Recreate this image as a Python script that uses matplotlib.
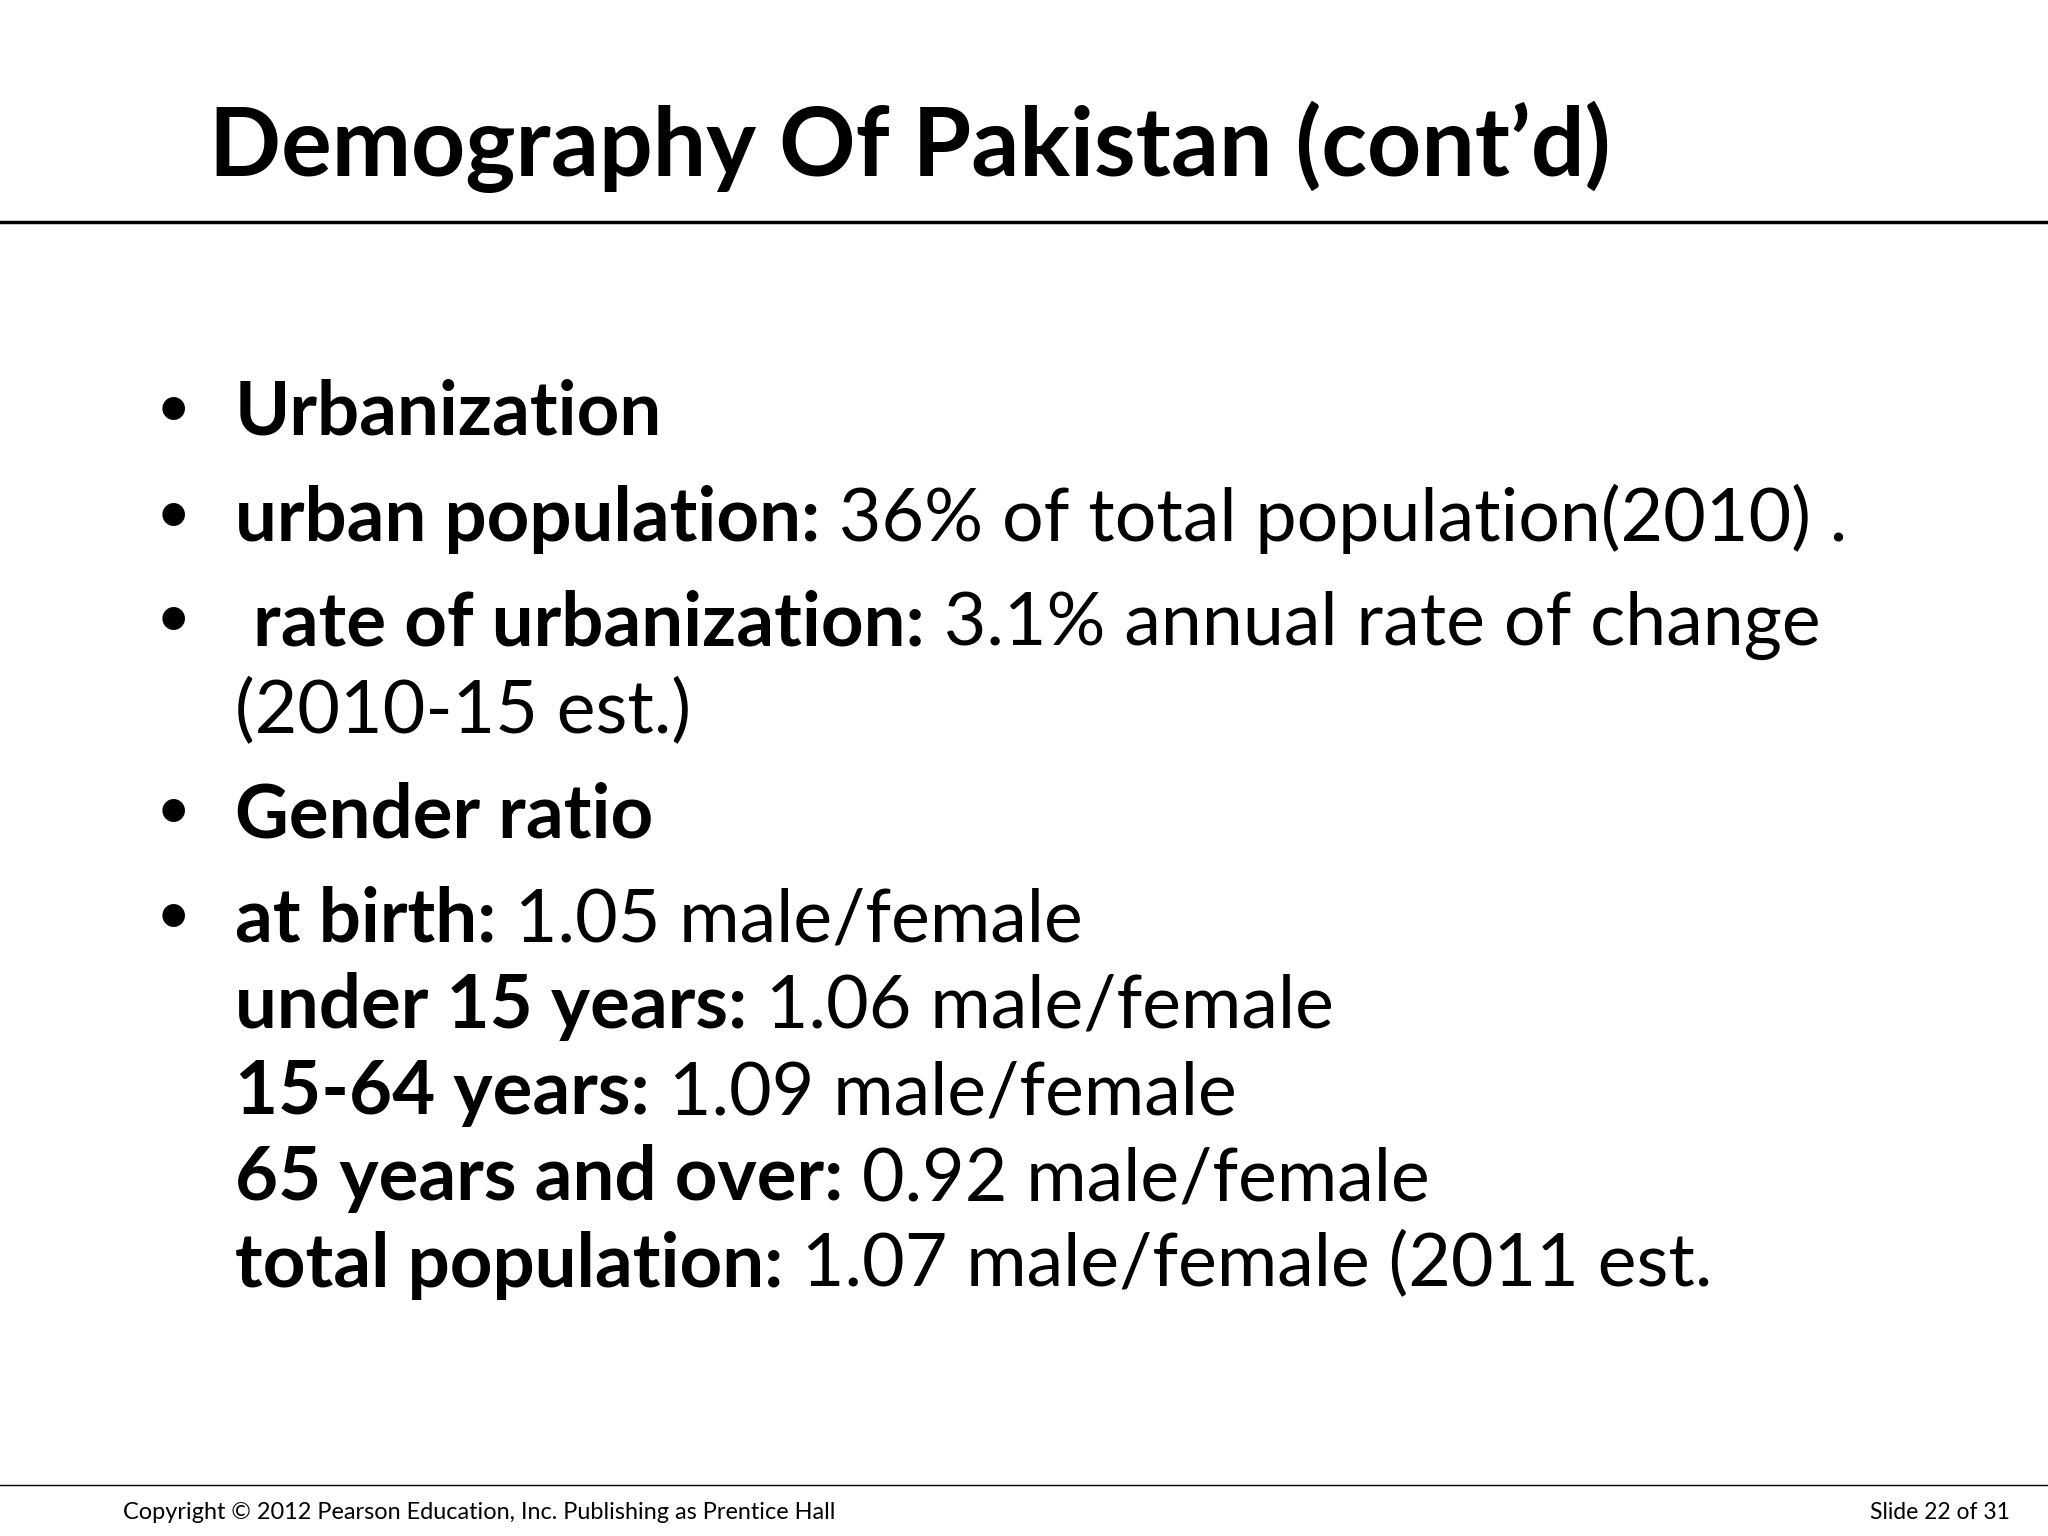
import matplotlib.pyplot as plt

plt.rcParams['font.family'] = ['Lato', 'DejaVu Sans']

title = 'Demography Of Pakistan (cont\u2019d)'
footer_left = 'Copyright \u00a9 2012 Pearson Education, Inc. Publishing as Prentice Hall'
footer_right = 'Slide 22 of 31'

# (bold part, regular part, baseline y in px of a 1568x1176 view)
lines = [
    ('Urbanization', '', 333),
    ('urban population:', ' 36% of total population(2010) .', 414),
    (' rate of urbanization:', ' 3.1% annual rate of change', 494),
    ('', '(2010-15 est.)', 561),
    ('Gender ratio', '', 641),
    ('at birth:', ' 1.05 male/female', 721),
    ('under 15 years:', ' 1.06 male/female', 787),
    ('15-64 years:', ' 1.09 male/female', 853),
    ('65 years and over:', ' 0.92 male/female', 919),
    ('total population:', ' 1.07 male/female (2011 est.', 985),
]
bullets_y = [327, 408, 488, 635, 715]

W, H = 1568, 1176
fig = plt.figure(figsize=(20.48, 15.36), dpi=100)
ax = fig.add_axes([0, 0, 1, 1])
ax.set_xlim(0, W)
ax.set_ylim(H, 0)
ax.axis('off')

ax.text(160, 135, title, fontsize=68.2, fontweight='bold', color='black', va='baseline')
ax.plot([0, W], [170, 170], color='black', lw=2.5)

fig.canvas.draw()
rend = fig.canvas.get_renderer()

for y in bullets_y:
    ax.text(119, y, '\u2022', fontsize=44, color='black', va='baseline')

for bold, reg, y in lines:
    x = 180
    if bold:
        t = ax.text(x, y, bold.replace(' ', '\u00a0', 1) if bold[0] == ' ' else bold,
                    fontsize=53.6, fontweight='bold', color='black', va='baseline')
        x = ax.transData.inverted().transform((t.get_window_extent(rend).x1, 0))[0]
    if reg:
        ax.text(x, y, reg.replace(' ', '\u00a0', 1) if reg[0] == ' ' else reg,
                fontsize=52.9, color='black', va='baseline')

ax.plot([0, W], [1137, 1137], color='black', lw=1)
ax.text(94, 1163, footer_left, fontsize=16.9, color='black', va='baseline')
ax.text(1539, 1163, footer_right, fontsize=16.5, color='black', va='baseline', ha='right')

fig.savefig('out.png', dpi=100, facecolor='white')
